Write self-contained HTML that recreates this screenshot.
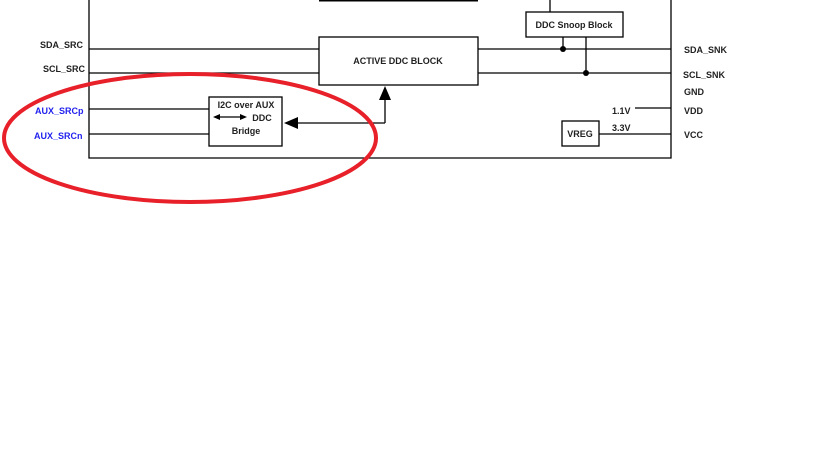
<!DOCTYPE html>
<html><head><meta charset="utf-8"><style>
html,body{margin:0;padding:0;background:#fff;width:819px;height:460px;overflow:hidden}
svg{display:block}
text{font-family:"Liberation Sans",sans-serif;font-size:9px;font-weight:bold;fill:#222}
</style></head><body>
<svg width="819" height="460" viewBox="0 0 819 460" xmlns="http://www.w3.org/2000/svg">
<defs><marker id="ah" viewBox="0 0 10 10" refX="9" refY="5" markerWidth="10" markerHeight="10" markerUnits="userSpaceOnUse" orient="auto"><path d="M0,0 L10,5 L0,10z" fill="#000"/></marker></defs>
<g stroke="#000" stroke-width="1.3" fill="none">
<polyline points="89,-2 89,158 671,158 671,-2"/>
<line x1="319" y1="0.5" x2="478" y2="0.5" stroke-width="2"/>
<rect x="319" y="37" width="159" height="48"/>
<rect x="526" y="12" width="97" height="25"/>
<line x1="550" y1="0" x2="550" y2="12"/>
<line x1="89" y1="49" x2="319" y2="49"/>
<line x1="89" y1="73" x2="319" y2="73"/>
<line x1="478" y1="49" x2="671" y2="49"/>
<line x1="478" y1="73" x2="671" y2="73"/>
<line x1="563" y1="37" x2="563" y2="49"/>
<line x1="586" y1="37" x2="586" y2="73"/>
<line x1="89" y1="109" x2="209" y2="109"/>
<line x1="89" y1="134" x2="209" y2="134"/>
<rect x="209" y="97" width="73" height="49"/>
<rect x="562" y="121" width="37" height="25"/>
<line x1="635" y1="108" x2="671" y2="108"/>
<line x1="599" y1="134" x2="671" y2="134"/>
<polyline points="385,123 295,123"/>
<line x1="385" y1="123" x2="385" y2="97"/>
</g>
<path d="M284,123 L298,117 L298,129z" fill="#000"/>
<path d="M385,86 L379,100 L391,100z" fill="#000"/>
<line x1="216" y1="117" x2="244" y2="117" stroke="#000" stroke-width="1.3"/>
<path d="M213,117 L220,114 L220,120z" fill="#000"/>
<path d="M247,117 L240,114 L240,120z" fill="#000"/>
<circle cx="563" cy="49" r="3" fill="#000"/>
<circle cx="586" cy="73" r="3" fill="#000"/>
<text x="40" y="48">SDA_SRC</text>
<text x="43" y="72">SCL_SRC</text>
<text x="35" y="114" style="fill:#2222ee">AUX_SRCp</text>
<text x="34" y="139" style="fill:#2222ee">AUX_SRCn</text>
<text x="398" y="64" text-anchor="middle">ACTIVE DDC BLOCK</text>
<text x="574" y="28" text-anchor="middle">DDC Snoop Block</text>
<text x="246" y="108" text-anchor="middle">I2C over AUX</text>
<text x="262" y="121" text-anchor="middle">DDC</text>
<text x="246" y="134" text-anchor="middle">Bridge</text>
<text x="580" y="137" text-anchor="middle">VREG</text>
<text x="612" y="114">1.1V</text>
<text x="612" y="131">3.3V</text>
<text x="684" y="53">SDA_SNK</text>
<text x="683" y="78">SCL_SNK</text>
<text x="684" y="95">GND</text>
<text x="684" y="114">VDD</text>
<text x="684" y="138">VCC</text>
<ellipse cx="190" cy="138" rx="186" ry="64" fill="none" stroke="#e8202a" stroke-width="4"/>
</svg>
</body></html>
